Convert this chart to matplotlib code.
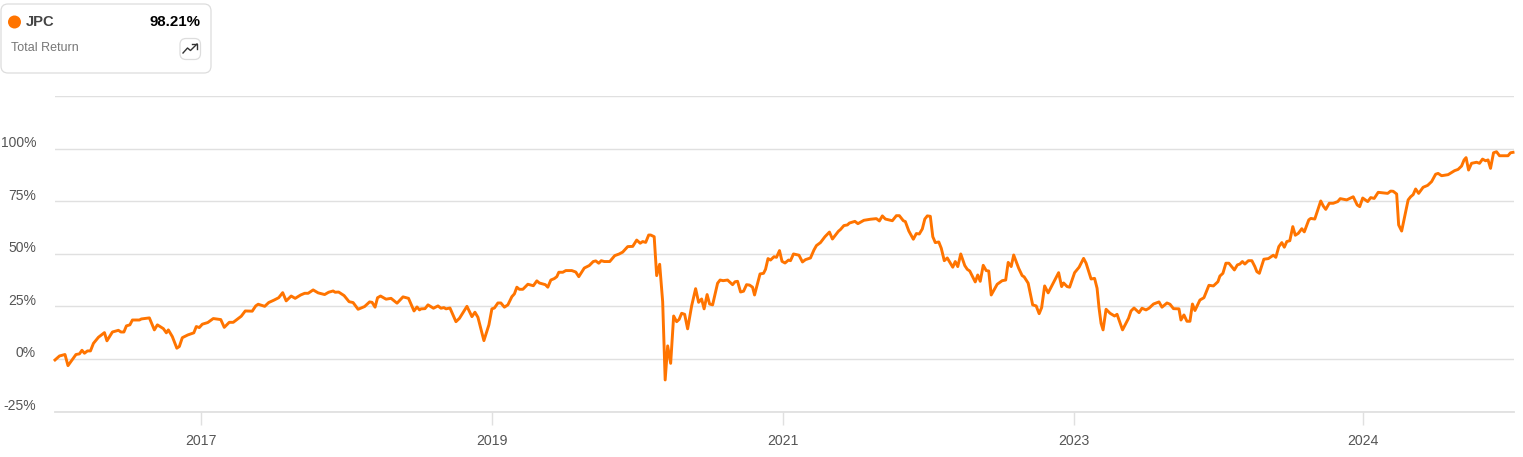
import matplotlib
matplotlib.use('Agg')
import matplotlib.pyplot as plt
from matplotlib.patches import FancyBboxPatch, Circle

plt.rcParams['font.family'] = ['Liberation Sans', 'DejaVu Sans']

# days since the start of the series, and total return in percent
days = [
    0, 9, 20, 26, 42, 49, 54, 59, 65, 71, 77, 87, 99, 104, 115, 127, 132, 138, 143, 150,
    155, 169, 173, 189, 199, 205, 217, 223, 227, 235, 244, 249, 255, 266, 278, 283, 289, 295, 306, 317,
    332, 339, 349, 357, 373, 381, 395, 402,
    407, 420, 428, 439, 448, 456, 463, 473, 481, 492, 500, 507, 517, 527, 540, 548, 557, 561, 568, 579,
    589, 597, 607, 620, 630, 635, 641, 646, 652, 663, 673, 685, 697, 708, 719, 725, 730, 733, 741, 747,
    758, 767, 773, 779, 783, 791, 803, 810,
    825, 835, 841, 847, 859, 869, 875, 880, 887, 893, 900, 907, 915, 920, 925, 930, 937, 947, 958, 965,
    970, 982, 987, 993, 1000, 1005, 1009, 1017, 1023, 1035, 1043, 1049, 1060, 1070, 1078, 1083, 1089, 1094, 1100, 1111,
    1121, 1130, 1137, 1147, 1157, 1165, 1172, 1177, 1183, 1189, 1193, 1200, 1205, 1211,
    1217, 1222, 1227, 1233, 1239, 1245, 1250, 1255, 1261, 1267, 1275, 1283, 1289, 1295, 1300, 1306, 1311, 1317, 1327, 1332,
    1338, 1347, 1357, 1362, 1367, 1373, 1379, 1385, 1391, 1397, 1401, 1412, 1419, 1423, 1428, 1433, 1440, 1445, 1451, 1456,
    1462, 1469, 1473, 1479, 1490, 1497, 1503, 1513, 1520, 1525, 1533, 1542, 1551, 1557, 1569, 1573, 1580, 1587, 1591, 1602,
    1608, 1620, 1633, 1645, 1651, 1657, 1663, 1677, 1685, 1691, 1699, 1703, 1710, 1719, 1725, 1731, 1737, 1742, 1747, 1753,
    1758, 1763, 1770, 1775, 1781, 1787, 1798, 1803, 1808, 1814, 1822, 1827, 1832, 1843, 1848, 1853, 1859, 1865, 1870, 1875,
    1887, 1897, 1904, 1909, 1915, 1920, 1930, 1937, 1941, 1949, 1958, 1965, 1971, 1976, 1982, 1989, 2010,
    2016, 2020, 2027, 2032, 2042, 2051, 2060, 2065, 2075, 2082, 2087, 2091, 2095, 2099, 2105, 2113, 2122, 2127, 2138, 2150,
    2155, 2161, 2171, 2177, 2185, 2191, 2200, 2211, 2217, 2227, 2233, 2240, 2251, 2255, 2261, 2267, 2273, 2278, 2283, 2293,
    2301, 2311, 2320, 2329, 2333, 2339, 2345, 2351, 2362, 2368, 2373, 2378, 2383, 2390, 2397, 2403, 2407, 2412, 2421,
    2430, 2440, 2445, 2451, 2457, 2462, 2467, 2473, 2479, 2484, 2490, 2497, 2502, 2511, 2515, 2523, 2535, 2540, 2545, 2552,
    2560, 2569, 2574, 2587, 2600, 2608, 2613, 2619, 2629, 2635, 2642, 2650, 2657, 2669, 2675, 2680, 2687, 2691, 2697, 2703,
    2710, 2715, 2720, 2725, 2731, 2740, 2749, 2757, 2765, 2770, 2777, 2790, 2803, 2810, 2817, 2822, 2826, 2831, 2837, 2847,
    2853, 2859, 2865, 2870, 2875, 2881, 2887, 2893, 2910, 2915, 2920,
]
total_return = [
    -0.5, 1.4, 2.1, -3.2, 2.1, 2.4, 4.1, 2.7, 3.8, 3.8, 7.4, 10.3, 12.5, 8.6, 12.8, 13.6, 12.8, 12.8, 15.7, 16.2,
    18.5, 18.5, 19.0, 19.5, 13.8, 16.2, 14.4, 12.4, 13.8, 10.6, 5.1, 5.9, 10.1, 11.4, 12.4, 15.4, 14.9, 16.5, 17.3, 19.2,
    18.7, 15.0, 17.4, 17.4, 20.3, 22.8, 22.7, 25.2,
    26.0, 25.0, 26.8, 28.0, 29.1, 31.5, 27.6, 29.9, 28.8, 30.4, 31.2, 31.2, 32.8, 31.4, 30.6, 31.7, 32.3, 31.7, 31.8, 30.1,
    27.2, 26.8, 23.6, 24.9, 27.1, 26.9, 24.6, 29.1, 29.9, 28.4, 28.8, 26.5, 29.5, 28.8, 22.8, 24.7, 23.3, 23.8, 23.9, 25.7,
    24.1, 25.2, 24.1, 24.4, 23.8, 24.2, 17.7, 19.3,
    25.0, 20.1, 22.2, 19.8, 8.7, 16.2, 23.8, 24.2, 26.6, 26.6, 24.6, 25.7, 29.6, 30.9, 34.1, 33.1, 33.1, 35.5, 34.8, 37.1,
    36.1, 35.3, 34.1, 37.5, 38.2, 39.1, 41.2, 41.2, 42.0, 42.0, 41.3, 39.1, 43.2, 44.4, 46.3, 46.6, 45.5, 46.7, 46.3, 46.3,
    49.1, 49.9, 50.8, 53.4, 53.5, 56.5, 55.0, 55.8, 55.4, 58.9, 58.9, 58.1, 39.6, 45.0,
    27.2, -10.0, 6.2, -2.1, 20.4, 17.7, 18.8, 21.7, 21.2, 14.3, 25.2, 33.4, 26.9, 28.5, 23.8, 30.6, 26.1, 25.7, 36.0, 37.5,
    37.2, 37.5, 35.3, 36.7, 36.9, 31.8, 32.2, 35.3, 35.1, 34.1, 30.4, 40.4, 40.7, 42.6, 47.7, 47.0, 48.6, 48.3, 51.5, 46.4,
    45.6, 47.0, 46.7, 49.9, 49.3, 46.1, 47.2, 48.0, 51.8, 53.9, 55.3, 58.1, 60.3, 57.0, 60.7, 61.5, 63.4, 63.7, 64.6, 65.4,
    64.3, 65.9, 66.4, 66.7, 65.6, 68.0, 66.5, 65.7, 68.1, 68.1, 65.7, 65.3, 60.8, 56.9, 59.6, 59.4, 61.8, 66.5, 68.0, 67.8,
    58.1, 55.3, 55.6, 52.6, 46.7, 48.0, 43.6, 46.3, 43.9, 49.9, 44.4, 42.6, 41.8, 36.6, 39.9, 36.9, 44.5, 42.0, 41.8, 30.4,
    35.5, 37.2, 37.5, 45.9, 43.9, 49.4, 43.1, 39.6, 39.0, 36.0, 25.7, 25.2, 21.5, 24.4, 34.7, 31.4, 41.0,
    34.4, 36.1, 34.4, 34.1, 41.0, 43.6, 47.8, 45.5, 38.0, 38.3, 33.6, 24.1, 16.9, 13.8, 23.6, 21.7, 20.4, 21.2, 13.8, 19.3,
    22.8, 24.2, 22.0, 24.1, 23.3, 24.1, 26.1, 27.1, 24.6, 26.6, 26.0, 23.9, 23.8, 18.5, 20.9, 17.9, 17.9, 26.1, 23.0, 28.0,
    29.1, 35.0, 34.7, 36.7, 39.4, 40.7, 45.5, 45.5, 42.3, 44.7, 45.1, 46.3, 45.1, 46.7, 46.7, 43.9, 41.5, 40.7, 47.4,
    47.7, 49.3, 48.3, 53.4, 55.3, 53.1, 55.8, 56.2, 62.9, 58.8, 59.7, 61.9, 60.4, 66.1, 66.8, 66.5, 75.1, 72.7, 71.1, 74.0,
    74.0, 74.8, 76.2, 75.6, 77.1, 73.2, 72.4, 76.5, 74.8, 76.7, 76.3, 79.2, 79.0, 78.7, 79.8, 79.7, 78.4, 63.7, 60.8, 67.6,
    75.6, 77.1, 78.1, 80.8, 78.7, 81.6, 82.5, 84.3, 87.8, 88.2, 87.1, 87.6, 89.5, 90.1, 91.7, 94.6, 95.7, 89.8, 93.0, 93.5,
    93.0, 95.0, 94.2, 94.6, 90.6, 98.0, 98.5, 96.6, 96.6, 98.0, 98.21,
]

y_ticks = [-25, 0, 25, 50, 75, 100, 125]
y_labels = ['-25%', '0%', '25%', '50%', '75%', '100%']
x_ticks = [293, 875, 1457, 2040, 2620]
x_labels = ['2017', '2019', '2021', '2023', '2024']

orange = '#ff7400'
grid_col = '#e0e0e0'
text_col = '#555555'
W, H = 1523, 457

fig = plt.figure(figsize=(W / 100, H / 100), dpi=100)
ax = fig.add_axes([55 / W, 1 - 411.5 / H, (1514 - 55) / W, (411.5 - 96) / H])

ax.plot(days, total_return, color=orange, lw=2.1, solid_joinstyle='round', zorder=3, clip_on=False)

ax.set_xlim(0, 2922)
ax.set_ylim(-25, 125)
ax.set_yticks(y_ticks)
ax.set_yticklabels([])
ax.tick_params(axis='y', length=0)
ax.grid(axis='y', color=grid_col, lw=1.0)
ax.set_axisbelow(True)
ax.set_xticks(x_ticks)
ax.set_xticklabels(x_labels, fontsize=10.2, color=text_col)
ax.tick_params(axis='x', length=9, width=1.0, color=grid_col, pad=7.5)
for s in ['top', 'left', 'right']:
    ax.spines[s].set_visible(False)
ax.spines['bottom'].set_color(grid_col)
ax.spines['bottom'].set_linewidth(1.3)

# y labels sit above their gridlines, not beside them
for v, lab in zip(y_ticks, y_labels):
    ax.annotate(lab, xy=(0, v), xycoords=('axes fraction', 'data'), xytext=(-19, 5.5),
                textcoords='offset pixels', ha='right', va='center', fontsize=10.0, color=text_col)

# legend card, drawn in pixel coordinates
card = fig.add_axes([0, 0, 1, 1], facecolor='none')
card.set_xlim(0, W)
card.set_ylim(H, 0)
card.axis('off')
card.add_patch(FancyBboxPatch((1, 4), 210, 69, boxstyle='round,pad=0,rounding_size=7',
                              fc='white', ec='#dddddd', lw=0.9))
card.add_patch(Circle((14.5, 22), 6.5, fc=orange, ec='none'))
card.text(25.5, 22.5, 'JPC', fontsize=10.6, fontweight='bold', color='#444444', va='center', ha='left')
card.text(201, 22.5, '98.21%', fontsize=10.8, fontweight='bold', color='black', va='center', ha='right')
card.text(11, 48, 'Total Return', fontsize=9.0, color='#777777', va='center', ha='left')
card.add_patch(FancyBboxPatch((180, 38.5), 20.5, 21, boxstyle='round,pad=0,rounding_size=6',
                              fc='white', ec='#dddddd', lw=0.9))
card.plot([183, 187.5, 190.5, 197], [53, 48, 50.5, 44], color='#333333', lw=1.0)
card.plot([192.5, 197, 197], [44, 44, 48.5], color='#333333', lw=1.0)

fig.savefig('out.png', dpi=100)
